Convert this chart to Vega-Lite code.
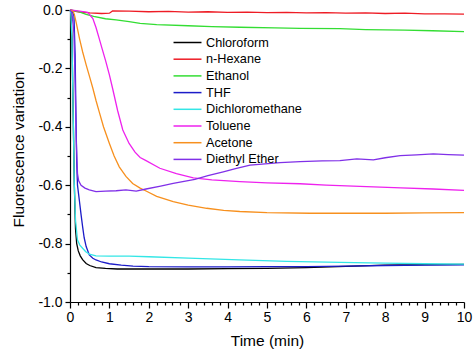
{
  "$schema": "https://vega.github.io/schema/vega-lite/v6.json",
  "width": 394,
  "height": 292,
  "autosize": {"type": "none"},
  "padding": {"left": 70, "top": 10, "right": 10, "bottom": 51},
  "config": {
    "font": "Liberation Sans",
    "view": {"stroke": null},
    "axis": {"grid": false, "domainColor": "#000000", "tickColor": "#000000", "labelColor": "#000000", "titleColor": "#000000", "domainWidth": 1.2, "tickWidth": 1.2, "labelFlush": false, "labelOverlap": false}
  },
  "data": {"values": [
    {"s":"Chloroform","t":0,"v":0},{"s":"Chloroform","t":0.02,"v":0},{"s":"Chloroform","t":0.05,"v":-0.1},{"s":"Chloroform","t":0.08,"v":-0.35},{"s":"Chloroform","t":0.11,"v":-0.6},{"s":"Chloroform","t":0.14,"v":-0.75},{"s":"Chloroform","t":0.17,"v":-0.8},{"s":"Chloroform","t":0.21,"v":-0.825},{"s":"Chloroform","t":0.26,"v":-0.842},{"s":"Chloroform","t":0.32,"v":-0.855},{"s":"Chloroform","t":0.41,"v":-0.868},{"s":"Chloroform","t":0.5,"v":-0.875},{"s":"Chloroform","t":0.66,"v":-0.882},{"s":"Chloroform","t":0.9,"v":-0.885},{"s":"Chloroform","t":1.2,"v":-0.887},{"s":"Chloroform","t":2,"v":-0.887},{"s":"Chloroform","t":3,"v":-0.887},{"s":"Chloroform","t":4,"v":-0.886},{"s":"Chloroform","t":5,"v":-0.885},{"s":"Chloroform","t":6,"v":-0.882},{"s":"Chloroform","t":7,"v":-0.878},{"s":"Chloroform","t":8,"v":-0.874},{"s":"Chloroform","t":9,"v":-0.872},{"s":"Chloroform","t":10,"v":-0.871},
    {"s":"n-Hexane","t":0,"v":0},{"s":"n-Hexane","t":0.2,"v":-0.006},{"s":"n-Hexane","t":0.5,"v":-0.01},{"s":"n-Hexane","t":0.8,"v":-0.012},{"s":"n-Hexane","t":1.0,"v":-0.011},{"s":"n-Hexane","t":1.08,"v":-0.003},{"s":"n-Hexane","t":1.5,"v":-0.004},{"s":"n-Hexane","t":2,"v":-0.006},{"s":"n-Hexane","t":2.5,"v":-0.005},{"s":"n-Hexane","t":3,"v":-0.007},{"s":"n-Hexane","t":3.5,"v":-0.006},{"s":"n-Hexane","t":4,"v":-0.008},{"s":"n-Hexane","t":4.5,"v":-0.007},{"s":"n-Hexane","t":5,"v":-0.009},{"s":"n-Hexane","t":5.5,"v":-0.008},{"s":"n-Hexane","t":6,"v":-0.01},{"s":"n-Hexane","t":6.5,"v":-0.009},{"s":"n-Hexane","t":7,"v":-0.011},{"s":"n-Hexane","t":7.5,"v":-0.01},{"s":"n-Hexane","t":8,"v":-0.012},{"s":"n-Hexane","t":8.5,"v":-0.011},{"s":"n-Hexane","t":9,"v":-0.013},{"s":"n-Hexane","t":9.5,"v":-0.013},{"s":"n-Hexane","t":10,"v":-0.014},
    {"s":"Ethanol","t":0,"v":0},{"s":"Ethanol","t":0.2,"v":-0.005},{"s":"Ethanol","t":0.41,"v":-0.015},{"s":"Ethanol","t":0.6,"v":-0.022},{"s":"Ethanol","t":0.9,"v":-0.03},{"s":"Ethanol","t":1.17,"v":-0.034},{"s":"Ethanol","t":1.5,"v":-0.04},{"s":"Ethanol","t":1.78,"v":-0.046},{"s":"Ethanol","t":2.2,"v":-0.05},{"s":"Ethanol","t":3,"v":-0.054},{"s":"Ethanol","t":3.6,"v":-0.057},{"s":"Ethanol","t":4.31,"v":-0.059},{"s":"Ethanol","t":5.2,"v":-0.061},{"s":"Ethanol","t":5.84,"v":-0.063},{"s":"Ethanol","t":6.85,"v":-0.064},{"s":"Ethanol","t":7.5,"v":-0.067},{"s":"Ethanol","t":8.5,"v":-0.069},{"s":"Ethanol","t":9.2,"v":-0.071},{"s":"Ethanol","t":10,"v":-0.074},
    {"s":"THF","t":0,"v":0},{"s":"THF","t":0.06,"v":-0.005},{"s":"THF","t":0.1,"v":-0.02},{"s":"THF","t":0.13,"v":-0.15},{"s":"THF","t":0.15,"v":-0.35},{"s":"THF","t":0.17,"v":-0.52},{"s":"THF","t":0.19,"v":-0.6},{"s":"THF","t":0.24,"v":-0.655},{"s":"THF","t":0.28,"v":-0.7},{"s":"THF","t":0.32,"v":-0.742},{"s":"THF","t":0.36,"v":-0.78},{"s":"THF","t":0.41,"v":-0.81},{"s":"THF","t":0.49,"v":-0.839},{"s":"THF","t":0.58,"v":-0.85},{"s":"THF","t":0.66,"v":-0.856},{"s":"THF","t":0.8,"v":-0.863},{"s":"THF","t":1.0,"v":-0.869},{"s":"THF","t":1.3,"v":-0.874},{"s":"THF","t":1.6,"v":-0.877},{"s":"THF","t":2,"v":-0.879},{"s":"THF","t":3,"v":-0.88},{"s":"THF","t":4,"v":-0.88},{"s":"THF","t":5,"v":-0.879},{"s":"THF","t":6,"v":-0.879},{"s":"THF","t":7,"v":-0.877},{"s":"THF","t":8,"v":-0.875},{"s":"THF","t":9,"v":-0.874},{"s":"THF","t":10,"v":-0.873},
    {"s":"Dichloromethane","t":0,"v":0},{"s":"Dichloromethane","t":0.02,"v":-0.01},{"s":"Dichloromethane","t":0.05,"v":-0.1},{"s":"Dichloromethane","t":0.08,"v":-0.35},{"s":"Dichloromethane","t":0.11,"v":-0.6},{"s":"Dichloromethane","t":0.14,"v":-0.72},{"s":"Dichloromethane","t":0.19,"v":-0.788},{"s":"Dichloromethane","t":0.25,"v":-0.805},{"s":"Dichloromethane","t":0.32,"v":-0.816},{"s":"Dichloromethane","t":0.4,"v":-0.828},{"s":"Dichloromethane","t":0.49,"v":-0.836},{"s":"Dichloromethane","t":0.66,"v":-0.842},{"s":"Dichloromethane","t":1,"v":-0.843},{"s":"Dichloromethane","t":1.5,"v":-0.843},{"s":"Dichloromethane","t":2,"v":-0.845},{"s":"Dichloromethane","t":3,"v":-0.85},{"s":"Dichloromethane","t":4.3,"v":-0.856},{"s":"Dichloromethane","t":5.5,"v":-0.861},{"s":"Dichloromethane","t":6.85,"v":-0.864},{"s":"Dichloromethane","t":8,"v":-0.867},{"s":"Dichloromethane","t":9,"v":-0.869},{"s":"Dichloromethane","t":10,"v":-0.87},
    {"s":"Toluene","t":0,"v":0},{"s":"Toluene","t":0.2,"v":-0.003},{"s":"Toluene","t":0.45,"v":-0.008},{"s":"Toluene","t":0.58,"v":-0.029},{"s":"Toluene","t":0.66,"v":-0.06},{"s":"Toluene","t":0.74,"v":-0.097},{"s":"Toluene","t":0.82,"v":-0.135},{"s":"Toluene","t":0.91,"v":-0.177},{"s":"Toluene","t":1.0,"v":-0.222},{"s":"Toluene","t":1.08,"v":-0.268},{"s":"Toluene","t":1.21,"v":-0.345},{"s":"Toluene","t":1.34,"v":-0.411},{"s":"Toluene","t":1.5,"v":-0.457},{"s":"Toluene","t":1.65,"v":-0.487},{"s":"Toluene","t":1.78,"v":-0.505},{"s":"Toluene","t":1.93,"v":-0.516},{"s":"Toluene","t":2.28,"v":-0.542},{"s":"Toluene","t":2.7,"v":-0.56},{"s":"Toluene","t":3.13,"v":-0.575},{"s":"Toluene","t":3.6,"v":-0.582},{"s":"Toluene","t":4.31,"v":-0.588},{"s":"Toluene","t":5,"v":-0.592},{"s":"Toluene","t":5.84,"v":-0.595},{"s":"Toluene","t":6.5,"v":-0.6},{"s":"Toluene","t":7.53,"v":-0.605},{"s":"Toluene","t":8.4,"v":-0.609},{"s":"Toluene","t":9.22,"v":-0.613},{"s":"Toluene","t":10,"v":-0.618},
    {"s":"Acetone","t":0,"v":0},{"s":"Acetone","t":0.08,"v":-0.005},{"s":"Acetone","t":0.11,"v":-0.015},{"s":"Acetone","t":0.16,"v":-0.045},{"s":"Acetone","t":0.24,"v":-0.097},{"s":"Acetone","t":0.32,"v":-0.143},{"s":"Acetone","t":0.41,"v":-0.188},{"s":"Acetone","t":0.5,"v":-0.23},{"s":"Acetone","t":0.58,"v":-0.268},{"s":"Acetone","t":0.66,"v":-0.31},{"s":"Acetone","t":0.74,"v":-0.348},{"s":"Acetone","t":0.85,"v":-0.4},{"s":"Acetone","t":1.0,"v":-0.457},{"s":"Acetone","t":1.12,"v":-0.5},{"s":"Acetone","t":1.25,"v":-0.537},{"s":"Acetone","t":1.42,"v":-0.57},{"s":"Acetone","t":1.59,"v":-0.594},{"s":"Acetone","t":1.78,"v":-0.61},{"s":"Acetone","t":1.93,"v":-0.62},{"s":"Acetone","t":2.2,"v":-0.638},{"s":"Acetone","t":2.62,"v":-0.656},{"s":"Acetone","t":3,"v":-0.668},{"s":"Acetone","t":3.47,"v":-0.679},{"s":"Acetone","t":3.9,"v":-0.686},{"s":"Acetone","t":4.31,"v":-0.69},{"s":"Acetone","t":5,"v":-0.694},{"s":"Acetone","t":6.09,"v":-0.696},{"s":"Acetone","t":7,"v":-0.696},{"s":"Acetone","t":8,"v":-0.696},{"s":"Acetone","t":9,"v":-0.695},{"s":"Acetone","t":10,"v":-0.694},
    {"s":"Diethyl Ether","t":0,"v":0},{"s":"Diethyl Ether","t":0.05,"v":-0.01},{"s":"Diethyl Ether","t":0.1,"v":-0.08},{"s":"Diethyl Ether","t":0.13,"v":-0.25},{"s":"Diethyl Ether","t":0.16,"v":-0.45},{"s":"Diethyl Ether","t":0.19,"v":-0.56},{"s":"Diethyl Ether","t":0.22,"v":-0.585},{"s":"Diethyl Ether","t":0.28,"v":-0.6},{"s":"Diethyl Ether","t":0.38,"v":-0.61},{"s":"Diethyl Ether","t":0.49,"v":-0.616},{"s":"Diethyl Ether","t":0.66,"v":-0.622},{"s":"Diethyl Ether","t":0.9,"v":-0.62},{"s":"Diethyl Ether","t":1.17,"v":-0.619},{"s":"Diethyl Ether","t":1.42,"v":-0.616},{"s":"Diethyl Ether","t":1.68,"v":-0.62},{"s":"Diethyl Ether","t":1.93,"v":-0.613},{"s":"Diethyl Ether","t":2.3,"v":-0.603},{"s":"Diethyl Ether","t":2.62,"v":-0.594},{"s":"Diethyl Ether","t":3.17,"v":-0.58},{"s":"Diethyl Ether","t":3.5,"v":-0.567},{"s":"Diethyl Ether","t":3.89,"v":-0.554},{"s":"Diethyl Ether","t":4.2,"v":-0.543},{"s":"Diethyl Ether","t":4.57,"v":-0.531},{"s":"Diethyl Ether","t":5.33,"v":-0.523},{"s":"Diethyl Ether","t":5.84,"v":-0.519},{"s":"Diethyl Ether","t":6.4,"v":-0.517},{"s":"Diethyl Ether","t":6.85,"v":-0.516},{"s":"Diethyl Ether","t":7.28,"v":-0.51},{"s":"Diethyl Ether","t":7.7,"v":-0.513},{"s":"Diethyl Ether","t":8.0,"v":-0.506},{"s":"Diethyl Ether","t":8.38,"v":-0.499},{"s":"Diethyl Ether","t":8.8,"v":-0.496},{"s":"Diethyl Ether","t":9.22,"v":-0.493},{"s":"Diethyl Ether","t":9.6,"v":-0.495},{"s":"Diethyl Ether","t":10,"v":-0.497}
  ]},
  "layer": [
    {
      "mark": {"type": "line", "strokeWidth": 1.3},
      "encoding": {
        "x": {"field": "t", "type": "quantitative", "scale": {"domain": [0, 10], "nice": false},
          "axis": {"values": [0,1,2,3,4,5,6,7,8,9,10], "tickSize": 6, "labelFontSize": 14, "labelPadding": 2, "title": "Time (min)", "titleFontSize": 15.5, "titleFontWeight": "normal", "titleBaseline": "alphabetic", "titleY": 43, "format": "d"}},
        "y": {"field": "v", "type": "quantitative", "scale": {"domain": [-1, 0], "nice": false, "zero": false},
          "axis": {"values": [-1,-0.8,-0.6,-0.4,-0.2,0], "tickSize": 5, "labelFontSize": 14, "labelPadding": 3, "labelExpr": "datum.value < 0 ? '-' + format(-datum.value, '.1f') : format(datum.value, '.1f')", "title": "Fluorescence variation", "titleFontSize": 15.5, "titleFontWeight": "normal", "titleBaseline": "alphabetic", "titleX": -47, "titleY": 139}},
        "color": {"field": "s", "type": "nominal",
          "scale": {"domain": ["Chloroform","n-Hexane","Ethanol","THF","Dichloromethane","Toluene","Acetone","Diethyl Ether"],
                    "range": ["#000000","#ee1c25","#33dd33","#1c1cc8","#33e6e6","#ee22ee","#f7901e","#8030e8"]},
          "legend": {"title": null, "orient": "none", "legendX": 111, "legendY": 26, "padding": 0, "symbolType": "M-2.5,0H2.5", "symbolSize": 125, "symbolStrokeWidth": 1.5, "labelFontSize": 12.7, "labelColor": "#000000", "labelOffset": 12, "rowPadding": 2.7}}
      }
    },
    {
      "mark": {"type": "line", "opacity": 0},
      "encoding": {
        "x": {"field": "t", "type": "quantitative",
          "axis": {"orient": "bottom", "values": [0.2,0.4,0.6,0.8,1.2,1.4,1.6,1.8,2.2,2.4,2.6,2.8,3.2,3.4,3.6,3.8,4.2,4.4,4.6,4.8,5.2,5.4,5.6,5.8,6.2,6.4,6.6,6.8,7.2,7.4,7.6,7.8,8.2,8.4,8.6,8.8,9.2,9.4,9.6,9.8], "tickSize": 3, "labels": false, "domain": false, "title": null}},
        "y": {"field": "v", "type": "quantitative",
          "axis": {"orient": "left", "values": [-0.9,-0.7,-0.5,-0.3,-0.1], "tickSize": 3, "labels": false, "domain": false, "title": null}}
      }
    }
  ],
  "resolve": {"axis": {"x": "independent", "y": "independent"}}
}
